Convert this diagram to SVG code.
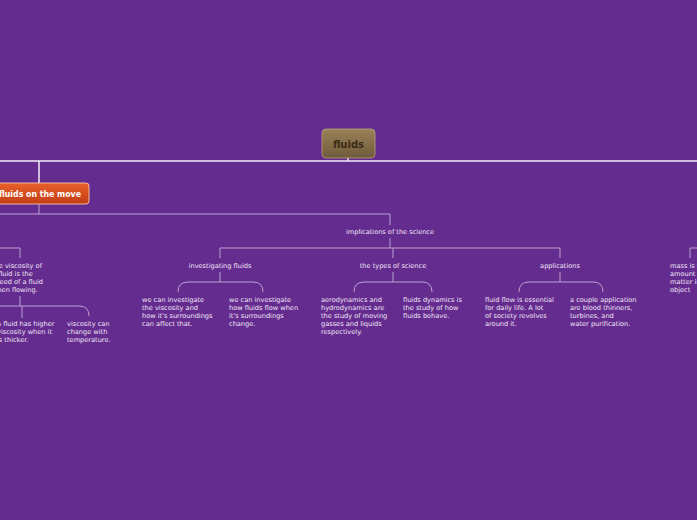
<svg xmlns="http://www.w3.org/2000/svg" width="697" height="520" viewBox="0 0 697 520">
<defs>
<linearGradient id="gb" x1="0" y1="0" x2="0" y2="1"><stop offset="0" stop-color="#9a8258"/><stop offset="1" stop-color="#6f5a3a"/></linearGradient>
<linearGradient id="go" x1="0" y1="0" x2="0" y2="1"><stop offset="0" stop-color="#e8602a"/><stop offset="1" stop-color="#c23c14"/></linearGradient>
</defs>
<style>
text{font-family:"DejaVu Sans",Verdana,sans-serif;font-size:6.6px;fill:#f0e6f6}
.l{stroke:#b9a2d0;stroke-width:1;fill:none}
.w{stroke:#f2ecf7;stroke-width:1.5;fill:none}
.m{text-anchor:middle}
</style>
<rect width="697" height="520" fill="#652c8f"/>
<g id="connectors">
<path class="w" d="M0 161H697M348 158V161M39 161V183"/>
<path class="l" d="M39 204V214M0 214H390V225M390 238V248M220 248H560M220 248V258M393 248V258M560 248V258M0 248H20V258M690 258V248H697"/>
<path class="l" d="M220 272V282M178 292Q178 282 188 282H253Q263 282 263 292"/>
<path class="l" d="M393 272V282M354 292Q354 282 364 282H422Q432 282 432 292"/>
<path class="l" d="M560 272V282M519 292Q519 282 529 282H593Q603 282 603 292"/>
<path class="l" d="M20 296V306M0 306H79Q89 306 89 316M22 306V318"/>
</g>
<g id="fluids"><rect x="322" y="129" width="53" height="29" rx="4" fill="url(#gb)" stroke="#b8a37a" stroke-width="0.8"/><text x="348.5" y="148" class="m" style="font-size:10px;font-weight:bold;fill:#3a2a14">fluids</text></g>
<g id="move"><rect x="-10" y="183" width="99" height="21" rx="3" fill="url(#go)" stroke="#f0b8a0" stroke-width="1"/><text x="-1" y="197" textLength="82" lengthAdjust="spacingAndGlyphs" style="font-size:8.5px;font-weight:bold;fill:#fff">fluids on the move</text></g>
<g id="impl"><text x="390" y="234" class="m">implications of the science</text></g>
<g id="inv"><text x="220" y="268" class="m">investigating fluids</text></g>
<g id="types"><text x="393" y="268" class="m">the types of science</text></g>
<g id="apps"><text x="560" y="268" class="m">applications</text></g>
<g id="inv1"><text x="142" y="302"><tspan x="142">we can investigate</tspan><tspan x="142" dy="8">the viscosity and</tspan><tspan x="142" dy="8">how it's surroundings</tspan><tspan x="142" dy="8">can affect that.</tspan></text></g>
<g id="inv2"><text x="229" y="302"><tspan x="229">we can investigate</tspan><tspan x="229" dy="8">how fluids flow when</tspan><tspan x="229" dy="8">it's surroundings</tspan><tspan x="229" dy="8">change.</tspan></text></g>
<g id="t1"><text x="321" y="302"><tspan x="321">aerodynamics and</tspan><tspan x="321" dy="8">hydrodynamics are</tspan><tspan x="321" dy="8">the study of moving</tspan><tspan x="321" dy="8">gasses and liquids</tspan><tspan x="321" dy="8">respectively.</tspan></text></g>
<g id="t2"><text x="403" y="302"><tspan x="403">fluids dynamics is</tspan><tspan x="403" dy="8">the study of how</tspan><tspan x="403" dy="8">fluids behave.</tspan></text></g>
<g id="a1"><text x="485" y="302"><tspan x="485">fluid flow is essential</tspan><tspan x="485" dy="8">for daily life. A lot</tspan><tspan x="485" dy="8">of society revolves</tspan><tspan x="485" dy="8">around it.</tspan></text></g>
<g id="a2"><text x="570" y="302"><tspan x="570">a couple application</tspan><tspan x="570" dy="8">are blood thinners,</tspan><tspan x="570" dy="8">turbines, and</tspan><tspan x="570" dy="8">water purification.</tspan></text></g>
<g id="visc"><text x="-8" y="268"><tspan x="-8">the viscosity of</tspan><tspan x="-8" dy="8">a fluid is the</tspan><tspan x="-8" dy="8">speed of a fluid</tspan><tspan x="-8" dy="8">when flowing.</tspan></text></g>
<g id="v1"><text x="-3" y="326"><tspan x="-3">a fluid has higher</tspan><tspan x="-3" dy="8">viscosity when it</tspan><tspan x="-3" dy="8">is thicker.</tspan></text></g>
<g id="v2"><text x="67" y="326"><tspan x="67">viscosity can</tspan><tspan x="67" dy="8">change with</tspan><tspan x="67" dy="8">temperature.</tspan></text></g>
<g id="mass"><text x="670" y="268"><tspan x="670">mass is the</tspan><tspan x="670" dy="8">amount of</tspan><tspan x="670" dy="8">matter in an</tspan><tspan x="670" dy="8">object</tspan></text></g>
</svg>
